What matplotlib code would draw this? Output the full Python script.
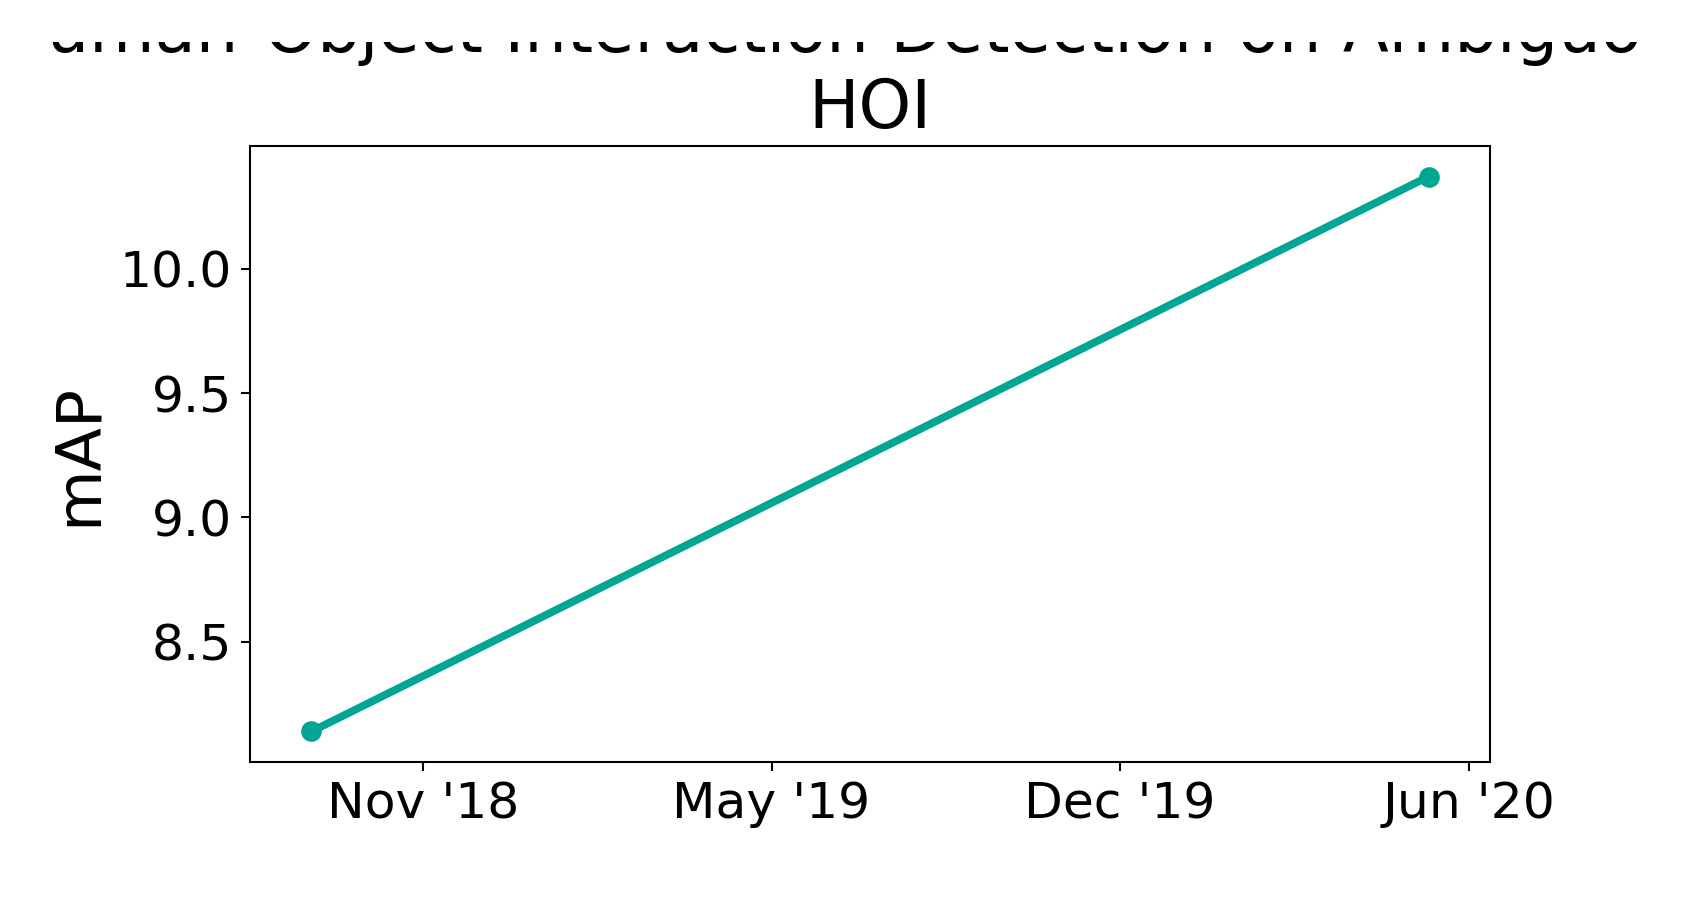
import matplotlib
matplotlib.use('Agg')
import matplotlib.pyplot as plt
import matplotlib.dates as mdates
from matplotlib.ticker import FuncFormatter, MultipleLocator
from matplotlib.transforms import Bbox, TransformedBbox

# old style date numbers (days since 0001-01-01)
plt.rcParams['date.epoch'] = '0000-12-31T00:00:00'

# data
paper_dates = ['2018-08-30', '2020-06-01']
map_scores = [8.14, 10.37]
title_text = "Human-Object Interaction Detection on Ambiguous-\nHOI"
y_label = "mAP"

DPI = 186
fig = plt.figure(figsize=(1700 / DPI, 900 / DPI), dpi=DPI)
ax = fig.add_axes([250 / 1700, 1 - 762 / 900, 1240 / 1700, 616 / 900])

x = mdates.datestr2num(paper_dates)
ax.plot(x, map_scores, '-o', color='#00a693', linewidth=3, markersize=7)
ax.margins(0.055)

ax.xaxis.set_major_locator(MultipleLocator(200))
ax.xaxis.set_major_formatter(
    FuncFormatter(lambda v, pos: mdates.num2date(v).strftime("%b '%y")))
ax.tick_params(labelsize=19.5)
ax.set_ylabel(y_label, fontsize=24.5)

t = ax.set_title(title_text, fontsize=26, pad=7)
# the top line of the title runs off the canvas in the reference
clip = TransformedBbox(Bbox.from_extents(53 / 1700, 0, 1640 / 1700, 858 / 900),
                       fig.transFigure)
t.set_clip_box(clip)
t.set_clip_on(True)

fig.savefig('out.png', dpi=DPI)
